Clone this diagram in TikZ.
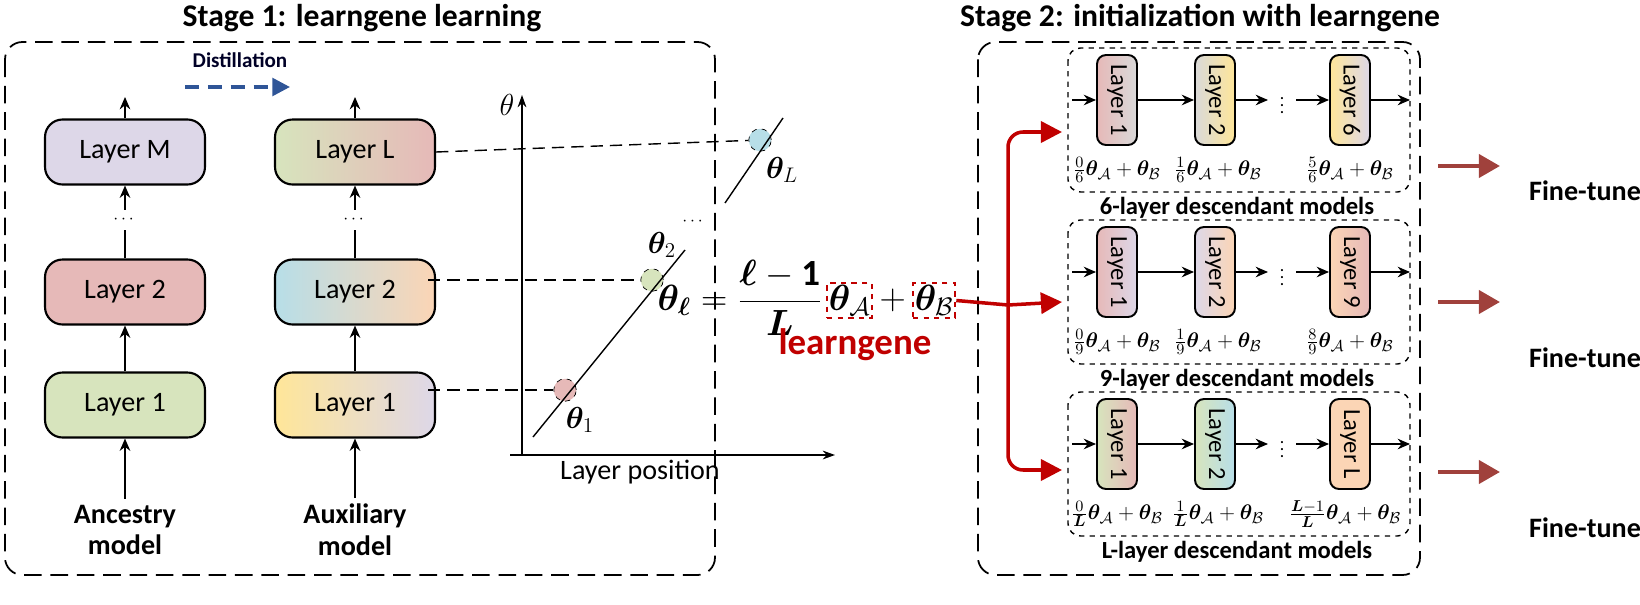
\documentclass[tikz,border=0pt]{standalone}
\usepackage{amsmath}
\usepackage{amssymb}
\usepackage{bm}
\usepackage{fontspec}
\setmainfont{Carlito}
\usepackage{tikz}
\usetikzlibrary{arrows.meta, positioning}
\definecolor{cgreen}{HTML}{D7E4BD}
\definecolor{cpurple}{HTML}{DDD7E8}
\definecolor{cpink}{HTML}{E6B9B8}
\definecolor{cblue}{HTML}{B7DEE8}
\definecolor{cpeach}{HTML}{FBD5B5}
\definecolor{cyellow}{HTML}{FFE699}
\definecolor{cgray}{HTML}{D9D9D9}
\definecolor{gred}{HTML}{C00000}
\definecolor{dblue}{HTML}{2F5597}
\definecolor{fbrown}{HTML}{A0413C}
\tikzstyle{layer} = [rectangle, rounded corners=0.35cm, draw=black, line width=1.2pt, minimum width=3.2cm, minimum height=1.3cm, font=\fontsize{16}{16}\selectfont]
\tikzstyle{vlayer} = [rectangle, rounded corners=0.18cm, draw=black, line width=1.1pt, minimum width=1.8cm, minimum height=0.8cm, rotate=-90, font=\fontsize{14}{14}\selectfont]
\tikzstyle{arrow} = [line width=1pt,-{Stealth[length=7pt,width=6pt]}]
\tikzstyle{frame} = [draw, dashed, rounded corners=0.35cm, line width=1pt, dash pattern=on 10pt off 5pt]
\tikzstyle{sub} = [draw, dashed, rounded corners=0.25cm, line width=0.8pt]
\tikzstyle{bigtxt} = [font=\bfseries\fontsize{16}{18}\selectfont, align=center]
\tikzstyle{wlab} = [font=\fontsize{13}{13}\selectfont]
\tikzstyle{ft} = [line width=2.5pt, draw=fbrown, -{Triangle[length=12pt,width=13pt]}]

\begin{document}
\begin{tikzpicture}[x=0.02cm,y=-0.02cm]
\useasboundingbox (0,0) rectangle (1640,605);
% frames and titles
\draw [frame] (5,42) rectangle (715,575);
\draw [frame] (978,42) rectangle (1420,575);
\node (title1) [font=\bfseries\fontsize{18}{18}\selectfont] at (362,18) {Stage 1: learngene learning};
\node (title2) [font=\bfseries\fontsize{18}{18}\selectfont] at (1200,18) {Stage 2: initialization with learngene};

% ancestry model
\node (aM) [layer, fill=cpurple] at (125,152) {Layer M};
\node (aD) at (125,220) {$\cdots$};
\node (a2) [layer, fill=cpink] at (125,292) {Layer 2};
\node (a1) [layer, fill=cgreen] at (125,405) {Layer 1};
\node (aTxt) [bigtxt] at (125,530) {Ancestry\\model};
\coordinate (aTop) at (125,97);
\draw [arrow] (aTxt) -- (a1);
\draw [arrow] (a1) -- (a2);
\draw [line width=1pt] (a2) -- (aD);
\draw [arrow] (aD) -- (aM);
\draw [arrow] (aM) -- (aTop);

% auxiliary model
\node (xL) [layer, left color=cgreen, right color=cpink] at (355,152) {Layer L};
\node (xD) at (355,220) {$\cdots$};
\node (x2) [layer, left color=cblue, right color=cpeach] at (355,292) {Layer 2};
\node (x1) [layer, left color=cyellow, right color=cpurple] at (355,405) {Layer 1};
\node (xTxt) [bigtxt] at (355,530) {Auxiliary\\model};
\coordinate (xTop) at (355,97);
\draw [arrow] (xTxt) -- (x1);
\draw [arrow] (x1) -- (x2);
\draw [line width=1pt] (x2) -- (xD);
\draw [arrow] (xD) -- (xL);
\draw [arrow] (xL) -- (xTop);

% distillation
\node (dist) [font=\bfseries\fontsize{12}{12}\selectfont, text=black!85!blue] at (240,60) {Distillation};
\coordinate (d0) at (185,87);
\coordinate (d1) at (290,87);
\draw [dblue, line width=2pt, dash pattern=on 8pt off 5pt, -{Triangle[length=10pt,width=10pt]}] (d0) -- (d1);

% axes
\coordinate (o) at (522,455);
\coordinate (yEnd) at (522,95);
\coordinate (xEnd) at (835,455);
\coordinate (xStart) at (510,455);
\draw [-{Stealth[length=7pt,width=5pt]}, line width=0.8pt] (o) -- (yEnd);
\draw [-{Stealth[length=7pt,width=5pt]}, line width=0.8pt] (xStart) -- (xEnd);
\node (yLab) [font=\fontsize{18}{18}\selectfont] at (507,105) {$\theta$};
\node (xLab) [font=\fontsize{16}{16}\selectfont] at (640,472) {Layer position};

% points
\node (p1) [circle, draw, dashed, fill=cpink, minimum size=0.45cm, inner sep=0pt] at (565,390) {};
\node (p2) [circle, draw, dashed, fill=cgreen, minimum size=0.45cm, inner sep=0pt] at (652,280) {};
\node (pL) [circle, draw, dashed, fill=cblue, minimum size=0.45cm, inner sep=0pt] at (760,140) {};
\coordinate (l0) at (533,437);
\coordinate (l1) at (685,250);
\coordinate (l2) at (725,203);
\coordinate (l3) at (783,118);
\draw [line width=0.8pt] (l0) -- (l1);
\draw [line width=0.8pt] (l2) -- (l3);
\node (pDots) at (694,222) {$\cdots$};
\node (t1) [font=\fontsize{18}{18}\selectfont] at (580,420) {$\bm\theta_{1}$};
\node (t2) [font=\fontsize{18}{18}\selectfont] at (662,245) {$\bm\theta_{2}$};
\node (tL) [font=\fontsize{18}{18}\selectfont] at (782,170) {$\bm\theta_{L}$};
\draw [dashed, line width=0.8pt, dash pattern=on 7pt off 4pt] (xL.east) -- (pL);
\draw [dashed, line width=0.8pt, dash pattern=on 7pt off 4pt] (428,280) -- (p2);
\draw [dashed, line width=0.8pt, dash pattern=on 7pt off 4pt] (428,390) -- (p1);

% formula
\node (feq) [font=\fontsize{21}{21}\selectfont, inner sep=1pt] at (740,298) {$\bm\theta_{\bm\ell}=\dfrac{\bm\ell-\mathbf{1}}{\bm L}$};
\node (gA) [draw=gred, dashed, line width=1.2pt, inner sep=1pt, font=\fontsize{21}{21}\selectfont, right=1pt of feq.east, yshift=-0.05cm] {$\bm\theta_{\mathcal A}$};
\node (plus) [font=\fontsize{21}{21}\selectfont, right=0pt of gA] {$+$};
\node (gB) [draw=gred, dashed, line width=1.2pt, inner sep=1pt, font=\fontsize{21}{21}\selectfont, right=0pt of plus] {$\bm\theta_{\mathcal B}$};
\node (gene) [text=gred, font=\bfseries\fontsize{21}{21}\selectfont] at (855,345) {learngene};

% red branches
\coordinate (rJ) at (1008,305);
\coordinate (rT) at (1062,132);
\coordinate (rM) at (1062,302);
\coordinate (rB) at (1062,470);
\draw [gred, line width=2pt] (gB.east) -- (rJ);
\draw [gred, line width=2pt, rounded corners=0.3cm, -{Triangle[length=12pt,width=12pt]}] (1008,305) |- (rT);
\draw [gred, line width=2pt, -{Triangle[length=12pt,width=12pt]}] (rJ) -- (rM);
\draw [gred, line width=2pt, rounded corners=0.3cm, -{Triangle[length=12pt,width=12pt]}] (1008,305) |- (rB);

% descendant models
\foreach \yy/\na/\nb/\nc/\lab/\ca/\cb/\cc/\cd/\ce/\cf in {
  0/1/2/6/6-layer/cpink/cgray/cgray/cyellow/cyellow/cpurple,
  172/1/2/9/9-layer/cpink/cpurple/cpurple/cpeach/cpeach/cpink,
  344/1/2/L/L-layer/cgreen/cpink/cgreen/cblue/cpeach/cpeach}{
  \draw [sub] (1068,48+\yy) rectangle (1410,192+\yy);
  \node (dl1) [vlayer, left color=\ca, right color=\cb] at (1117,100+\yy) {Layer \na};
  \node (dl2) [vlayer, left color=\cc, right color=\cd] at (1215,100+\yy) {Layer \nb};
  \node (dl3) [vlayer, left color=\ce, right color=\cf] at (1350,100+\yy) {Layer \nc};
  \node (dDot) [inner sep=0pt] at (1282,100+\yy) {$\vdots$};
  \node (dLab) [font=\bfseries\fontsize{14}{14}\selectfont] at (1237,208+\yy) {\lab\ descendant models};
  \coordinate (dIn) at (1072,100+\yy);
  \coordinate (dOut) at (1410,100+\yy);
  \coordinate (dA) at (1268,100+\yy);
  \coordinate (dB) at (1296,100+\yy);
  \draw [arrow] (dIn) -- (dl1);
  \draw [arrow] (dl1) -- (dl2);
  \draw [arrow] (dl2) -- (dA);
  \draw [arrow] (dB) -- (dl3);
  \draw [arrow] (dl3) -- (dOut);
}
% weight labels
\node (w61) [wlab] at (1117,170) {$\frac{0}{6}\bm\theta_{\mathcal A}+\bm\theta_{\mathcal B}$};
\node (w62) [wlab] at (1218,170) {$\frac{1}{6}\bm\theta_{\mathcal A}+\bm\theta_{\mathcal B}$};
\node (w66) [wlab] at (1350,170) {$\frac{5}{6}\bm\theta_{\mathcal A}+\bm\theta_{\mathcal B}$};
\node (w91) [wlab] at (1117,342) {$\frac{0}{9}\bm\theta_{\mathcal A}+\bm\theta_{\mathcal B}$};
\node (w92) [wlab] at (1218,342) {$\frac{1}{9}\bm\theta_{\mathcal A}+\bm\theta_{\mathcal B}$};
\node (w99) [wlab] at (1350,342) {$\frac{8}{9}\bm\theta_{\mathcal A}+\bm\theta_{\mathcal B}$};
\node (wL1) [wlab] at (1117,514) {$\frac{0}{\bm L}\bm\theta_{\mathcal A}+\bm\theta_{\mathcal B}$};
\node (wL2) [wlab] at (1218,514) {$\frac{1}{\bm L}\bm\theta_{\mathcal A}+\bm\theta_{\mathcal B}$};
\node (wLL) [wlab] at (1345,514) {$\frac{\bm L-1}{\bm L}\bm\theta_{\mathcal A}+\bm\theta_{\mathcal B}$};

% fine-tune
\foreach \ay/\ty [count=\i] in {166/191, 302/358, 472/528}{
  \coordinate (f\i a) at (1438,\ay);
  \coordinate (f\i b) at (1500,\ay);
  \draw [ft] (f\i a) -- (f\i b);
  \node (ft\i) [font=\bfseries\fontsize{16}{16}\selectfont] at (1585,\ty) {Fine-tune};
}
\end{tikzpicture}
\end{document}
